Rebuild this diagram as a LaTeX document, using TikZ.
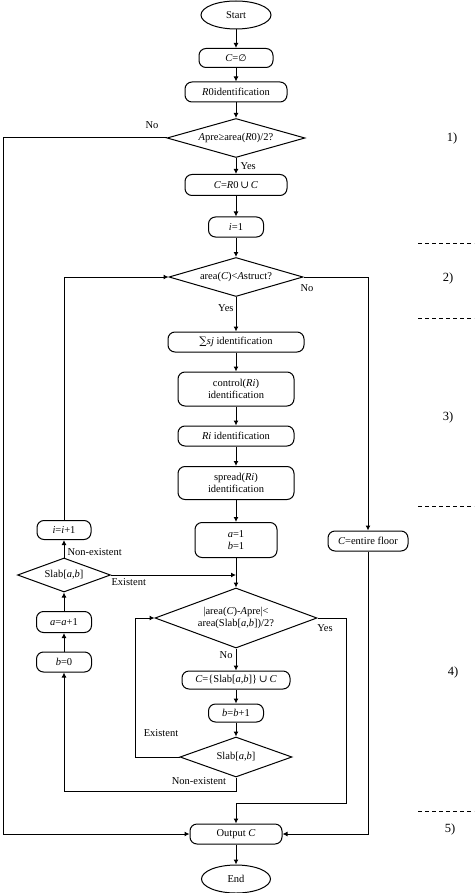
\documentclass[tikz,border=0pt]{standalone}
\usepackage{fontspec}
\setmainfont{Liberation Serif}
\newfontfamily\symf{DejaVu Sans}
\newfontfamily\symg{DejaVu Serif}
\usetikzlibrary{shapes.geometric,arrows.meta}
\begin{document}
\begin{tikzpicture}[x=1pt,y=-1pt, font=\fontsize{10.5}{12}\selectfont, line width=1pt,
 proc/.style={draw, rectangle, rounded corners=7pt, inner sep=0pt, align=center},
 term/.style={draw, ellipse, inner sep=0pt},
 dec/.style={draw, diamond, inner sep=0pt},
 arr/.style={-{Latex[length=5pt,width=5pt]}},
 lbl/.style={inner sep=0pt},
 phase/.style={inner sep=0pt, font=\fontsize{12.5}{14}\selectfont},
 sep/.style={dash pattern=on 4pt off 3pt, line width=0.8pt}]
\useasboundingbox (0,0) rectangle (474,893);
% main column
\node[term, minimum width=70, minimum height=28] (start) at (236,15) {Start};
\node[proc, minimum width=74, minimum height=19] (c0) at (236,58) {\textit{C}={\symf\fontsize{9.5}{11}\selectfont ∅}};
\node[proc, minimum width=102, minimum height=20] (r0) at (236,92) {\textit{R}0identification};
\node[dec, minimum width=138, minimum height=39] (d1) at (236,138) {};
\node[lbl] at (d1) {\textit{A}pre≥area(\textit{R}0)/2?};
\node[proc, minimum width=102, minimum height=21] (cr) at (236,185) {\textit{C}=\textit{R}0\,{\symg ∪}\,\textit{C}};
\node[proc, minimum width=55, minimum height=20] (i1) at (236,227) {\textit{i}=1};
\node[dec, minimum width=134, minimum height=39] (d2) at (236,277) {};
\node[lbl] at (d2) {area(\textit{C})<\textit{A}struct?};
\node[proc, minimum width=136, minimum height=20] (sj) at (236,342) {{\symg ∑}\textit{sj} identification};
\node[proc, minimum width=116, minimum height=34] (ctl) at (236,389) {control(\textit{Ri})\\identification};
\node[proc, minimum width=116, minimum height=20] (ri) at (236,436) {\textit{Ri} identification};
\node[proc, minimum width=116, minimum height=33] (spr) at (236,483) {spread(\textit{Ri})\\identification};
\node[proc, minimum width=82, minimum height=35] (ab) at (236,540) {\textit{a}=1\\\textit{b}=1};
\node[proc, minimum width=80, minimum height=20] (cef) at (368,541) {\textit{C}=entire floor};
\node[dec, minimum width=162, minimum height=60] (d3) at (236,618) {};
\node[lbl, align=center] at (d3) {|area(\textit{C})-\textit{A}pre|<\\area(Slab[\textit{a},\textit{b}])/2?};
\node[proc, minimum width=108, minimum height=18] (cs) at (236,680) {\textit{C}=\{Slab[\textit{a},\textit{b}]\}\,{\symg ∪}\,\textit{C}};
\node[proc, minimum width=55, minimum height=18] (bb) at (236,713) {\textit{b}=\textit{b}+1};
\node[dec, minimum width=112, minimum height=40] (d4) at (236,757) {};
\node[lbl] at (d4) {Slab[\textit{a},\textit{b}]};
\node[proc, minimum width=92, minimum height=20] (out) at (236,834) {Output \textit{C}};
\node[term, minimum width=69, minimum height=28] (end) at (236,879) {End};
% left column
\node[proc, minimum width=54, minimum height=19] (ii) at (64,530) {\textit{i}=\textit{i}+1};
\node[dec, minimum width=93, minimum height=34] (d5) at (64,575) {};
\node[lbl] at (d5) {Slab[\textit{a},\textit{b}]};
\node[proc, minimum width=55, minimum height=21] (aa) at (64,622) {\textit{a}=\textit{a}+1};
\node[proc, minimum width=55, minimum height=20] (b0) at (64,662) {\textit{b}=0};
\coordinate (jn) at (236,575);
% connectors
\draw[arr] (start) -- (c0);
\draw[arr] (c0) -- (r0);
\draw[arr] (r0) -- (d1);
\draw[arr] (d1) -- (cr);
\draw[arr] (cr) -- (i1);
\draw[arr] (i1) -- (d2);
\draw[arr] (d2) -- (sj);
\draw[arr] (sj) -- (ctl);
\draw[arr] (ctl) -- (ri);
\draw[arr] (ri) -- (spr);
\draw[arr] (spr) -- (ab);
\draw[arr] (ab) -- (d3);
\draw[arr] (d3) -- (cs);
\draw[arr] (cs) -- (bb);
\draw[arr] (bb) -- (d4);
\draw[arr] (out) -- (end);
\draw[arr] (d1.west) -- (3,138) |- (out.west);
\draw[arr] (d2.east) -| (cef.north);
\draw[arr] (cef.south) |- (out.east);
\draw[arr] (d3.east) -| (346,803) -| (out.north);
\draw[arr] (d4.west) -| (135,618) -- (d3.west);
\draw[arr] (d4.south) -- (236,791) -| (b0.south);
\draw[arr] (b0) -- (aa);
\draw[arr] (aa) -- (d5);
\draw[arr] (d5) -- (ii);
\draw[arr] (ii.north) |- (d2.west);
\draw[arr] (d5.east) -- (jn);
% labels
\node[lbl] at (152,125) {No};
\node[lbl, anchor=west] at (240,166) {Yes};
\node[lbl, anchor=east] at (234,308) {Yes};
\node[lbl] at (307,288) {No};
\node[lbl, anchor=west] at (67,552) {Non-existent};
\node[lbl, anchor=west] at (111,582) {Existent};
\node[lbl] at (325,628) {Yes};
\node[lbl, anchor=east] at (233,655) {No};
\node[lbl] at (161,733) {Existent};
\node[lbl] at (199,781) {Non-existent};
% phase separators
\draw[sep] (418,243) -- (474,243);
\draw[sep] (418,318) -- (474,318);
\draw[sep] (418,506) -- (474,506);
\draw[sep] (418,811) -- (474,811);
\node[phase] at (452,138) {1)};
\node[phase] at (448,278) {2)};
\node[phase] at (448,417) {3)};
\node[phase] at (453,672) {4)};
\node[phase] at (450,829) {5)};
\end{tikzpicture}
\end{document}
